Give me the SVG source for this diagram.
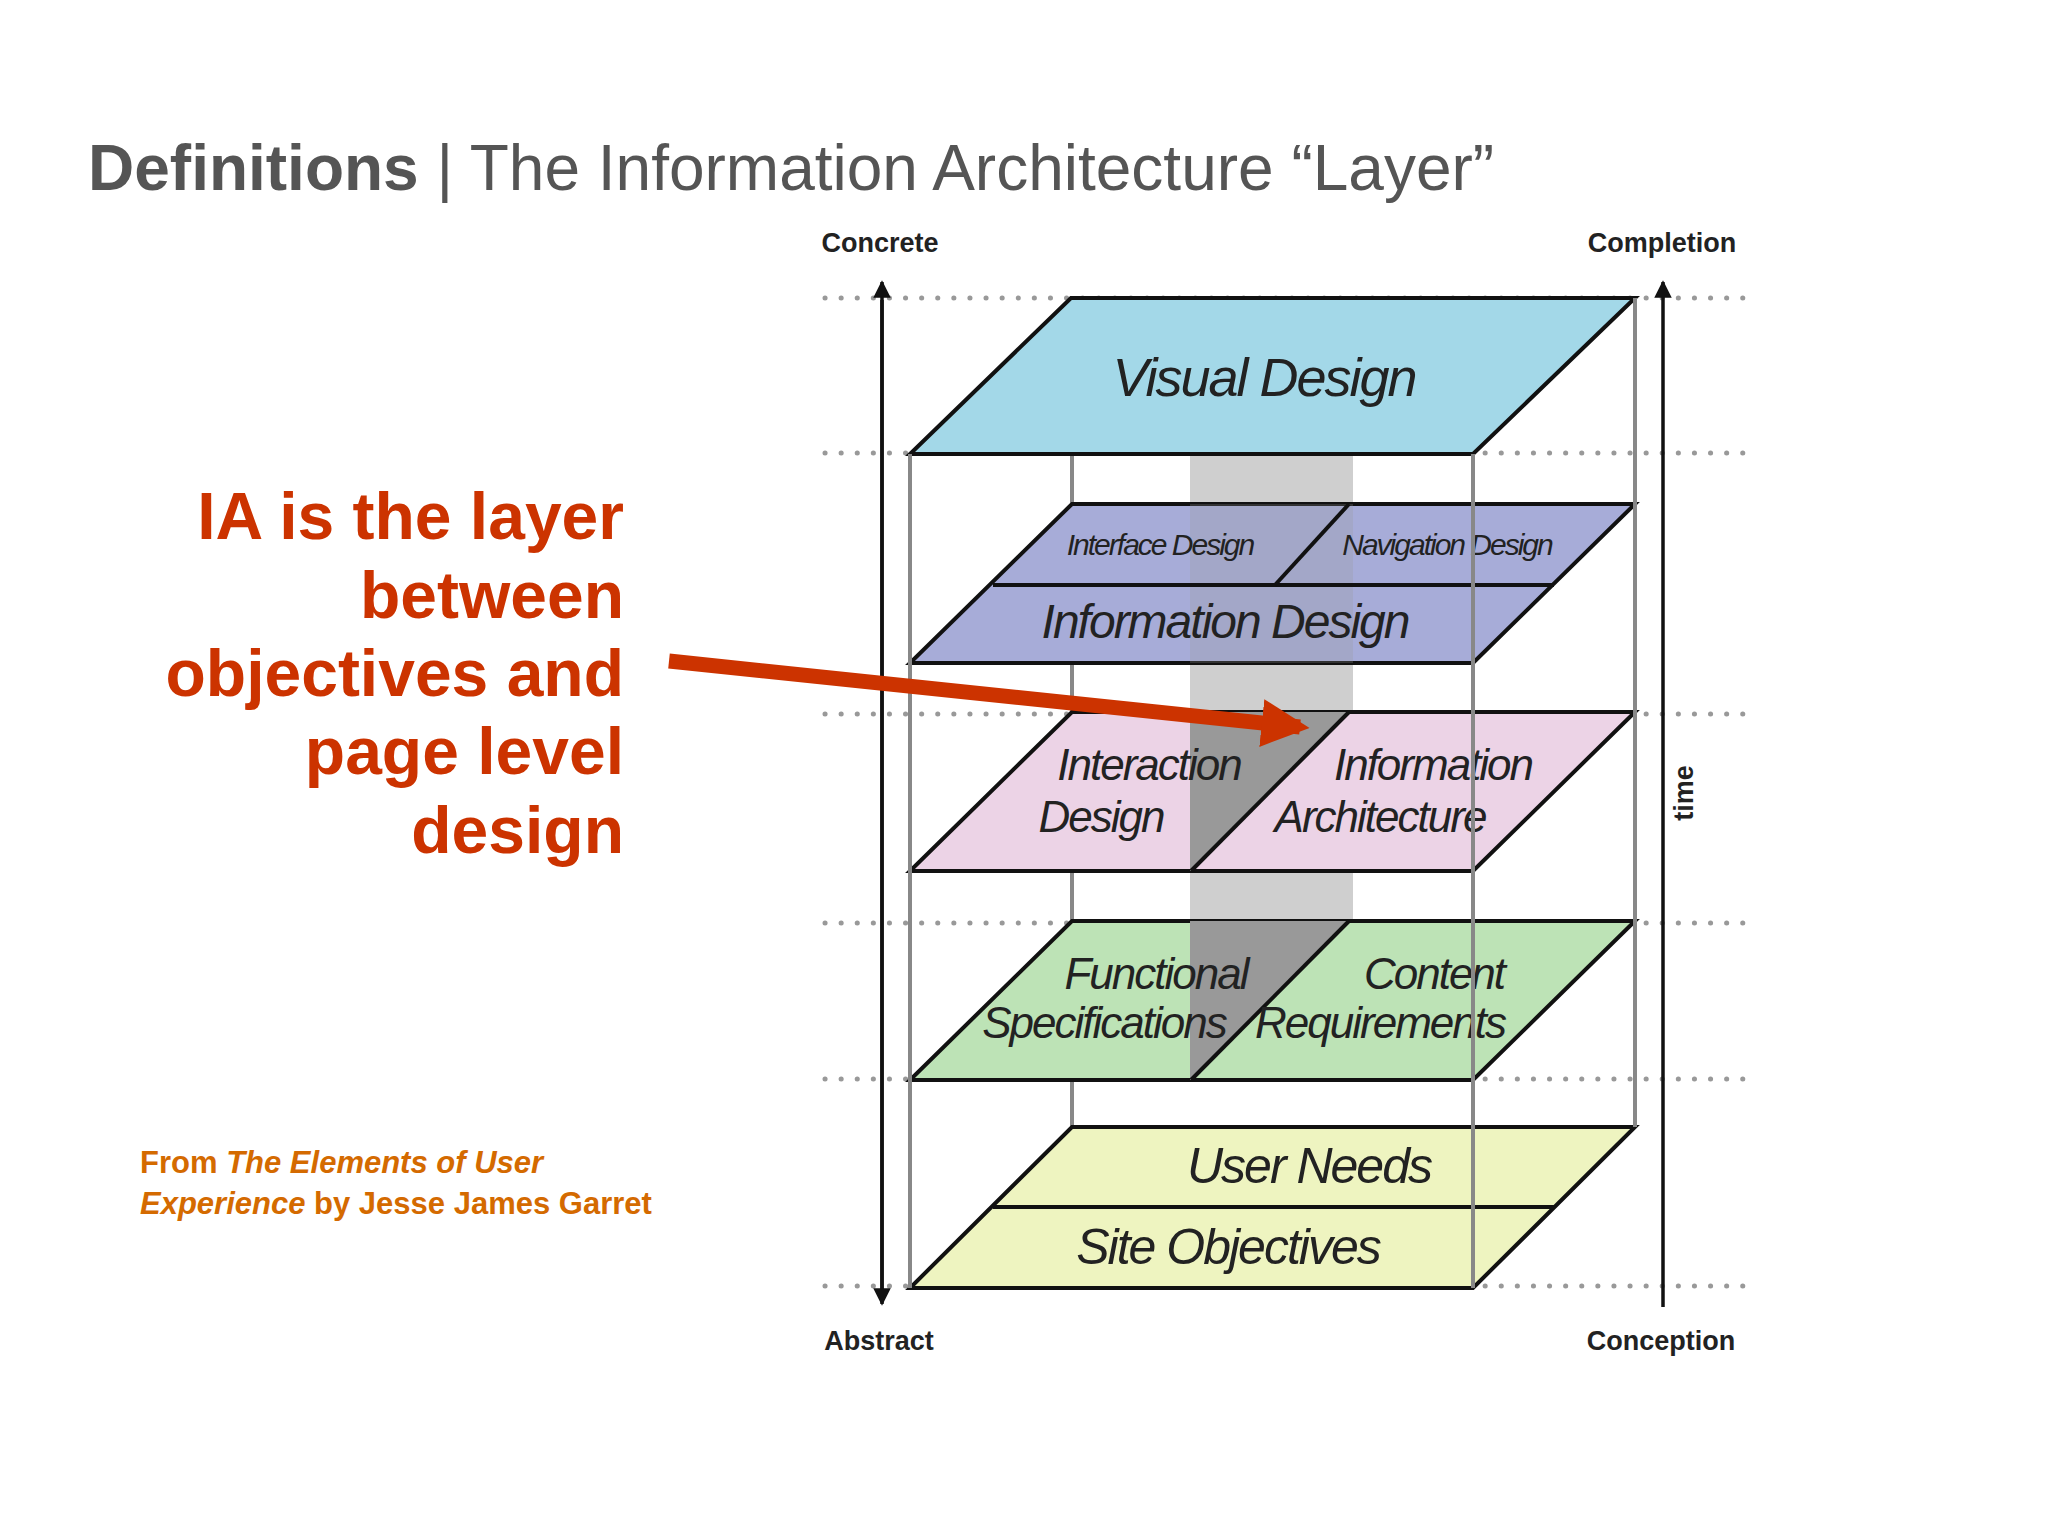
<svg xmlns="http://www.w3.org/2000/svg" width="2048" height="1536" viewBox="0 0 2048 1536">
<style>
.lbl{font-family:"Liberation Sans",Arial,sans-serif;font-weight:bold;font-size:27px;fill:#222;text-anchor:middle}
.lay{stroke:#111;stroke-width:4;stroke-linejoin:miter}
.it{font-family:"Liberation Sans",Arial,sans-serif;font-style:italic;fill:#222;text-anchor:middle;letter-spacing:-2px;font-weight:300}
.dot{stroke:#999;stroke-width:5;stroke-dasharray:0.1 16;stroke-linecap:round;fill:none}
.frame{stroke:#888;stroke-width:4;fill:none}
.red{font-family:"Liberation Sans",Arial,sans-serif;font-weight:bold;font-size:66px;fill:#cc3300;text-anchor:end}
</style>
<defs>
<marker id="ah" viewBox="0 0 10 10" refX="9" refY="5" markerWidth="5" markerHeight="6" orient="auto"><path d="M0,0L10,5L0,10z" fill="#111"/></marker>
<marker id="ra" viewBox="0 0 10 10" refX="8" refY="5" markerWidth="3.2" markerHeight="3.2" orient="auto"><path d="M0,0L10,5L0,10z" fill="#cc3300"/></marker>
</defs>
<rect width="2048" height="1536" fill="#fff"/>
<text x="88" y="190" font-family="Liberation Sans,Arial,sans-serif" font-size="64" fill="#555"><tspan font-weight="bold">Definitions</tspan> | The Information Architecture “Layer”</text>

<g id="guides">
<line class="dot" x1="825" y1="298" x2="1750" y2="298"/>
<line class="dot" x1="825" y1="453" x2="1750" y2="453"/>
<line class="dot" x1="825" y1="714" x2="1750" y2="714"/>
<line class="dot" x1="825" y1="923" x2="1750" y2="923"/>
<line class="dot" x1="825" y1="1079" x2="1750" y2="1079"/>
<line class="dot" x1="825" y1="1286" x2="1750" y2="1286"/>
</g>

<g id="back-frame">
<line class="frame" x1="1072" y1="454" x2="1072" y2="1127"/>
<rect x="1190" y="454" width="163" height="466" fill="#cfcfcf"/>
</g>

<g id="layer-visual">
<polygon class="lay" points="1071,298 1635,298 1473,454 910,454" fill="#a3d8e8"/>
<text class="it" x="1264" y="396" font-size="54">Visual Design</text>
</g>
<g id="layer-information-design">
<polygon class="lay" points="1072,504 1635,504 1473,663 910,663" fill="#a7acd8"/>
<rect x="1190" y="504" width="163" height="159" fill="#999" opacity="0.25"/>
<line class="lay" x1="993" y1="585" x2="1554" y2="585"/>
<line class="lay" x1="1349" y1="504" x2="1275" y2="585"/>
<text class="it" x="1160" y="555" font-size="30">Interface Design</text>
<text class="it" x="1447" y="555" font-size="30">Navigation Design</text>
<text class="it" x="1225" y="638" font-size="48">Information Design</text>
</g>
<g id="layer-ia">
<polygon class="lay" points="1072,712 1635,712 1473,871 910,871" fill="#ecd3e6"/>
<polygon points="1190,712 1349,712 1191,871 1190,871" fill="#999"/>
<line class="lay" x1="1349" y1="712" x2="1191" y2="871"/>
<text class="it" x="1149" y="780" font-size="44">Interaction</text>
<text class="it" x="1101" y="832" font-size="44">Design</text>
<text class="it" x="1433" y="780" font-size="44">Information</text>
<text class="it" x="1380" y="832" font-size="44">Architecture</text>
</g>
<g id="layer-scope">
<polygon class="lay" points="1072,921 1635,921 1473,1080 910,1080" fill="#bde3b6"/>
<polygon points="1190,921 1349,921 1191,1080 1190,1080" fill="#999"/>
<line class="lay" x1="1349" y1="921" x2="1191" y2="1080"/>
<text class="it" x="1156" y="989" font-size="44">Functional</text>
<text class="it" x="1104" y="1038" font-size="44">Specifications</text>
<text class="it" x="1434" y="989" font-size="44">Content</text>
<text class="it" x="1380" y="1038" font-size="44">Requirements</text>
</g>
<g id="layer-strategy">
<polygon class="lay" points="1072,1127 1635,1127 1473,1288 910,1288" fill="#eef4c0"/>
<line class="lay" x1="993" y1="1207" x2="1554" y2="1207"/>
<text class="it" x="1309" y="1183" font-size="50">User Needs</text>
<text class="it" x="1228" y="1264" font-size="50">Site Objectives</text>
</g>

<g id="front-frame">
<line class="frame" x1="910" y1="454" x2="910" y2="1288"/>
<line class="frame" x1="1473" y1="454" x2="1473" y2="1288"/>
<line class="frame" x1="1635" y1="298" x2="1635" y2="1127"/>
</g>

<g id="connectors">
<line x1="882" y1="1300" x2="882" y2="282" stroke="#111" stroke-width="3.5" marker-end="url(#ah)"/>
<line x1="882" y1="300" x2="882" y2="1304" stroke="#111" stroke-width="3.5" marker-end="url(#ah)"/>
<line x1="1663" y1="1307" x2="1663" y2="282" stroke="#111" stroke-width="3.5" marker-end="url(#ah)"/>
<line x1="669" y1="661" x2="1300" y2="727" stroke="#cc3300" stroke-width="15" marker-end="url(#ra)"/>
</g>

<g id="axis-labels">
<text class="lbl" x="880" y="252">Concrete</text>
<text class="lbl" x="1662" y="252">Completion</text>
<text class="lbl" x="879" y="1350">Abstract</text>
<text class="lbl" x="1661" y="1350">Conception</text>
<text class="lbl" transform="translate(1693,793) rotate(-90)">time</text>
</g>

<g id="callout">
<text class="red" x="624" y="539">IA is the layer</text>
<text class="red" x="624" y="618">between</text>
<text class="red" x="624" y="696">objectives and</text>
<text class="red" x="624" y="774">page level</text>
<text class="red" x="624" y="853">design</text>
</g>
<g id="citation" font-family="Liberation Sans,Arial,sans-serif" font-weight="bold" font-size="31" fill="#d46a00">
<text x="140" y="1173">From <tspan font-style="italic">The Elements of User</tspan></text>
<text x="140" y="1214"><tspan font-style="italic">Experience</tspan> by Jesse James Garret</text>
</g>
</svg>
